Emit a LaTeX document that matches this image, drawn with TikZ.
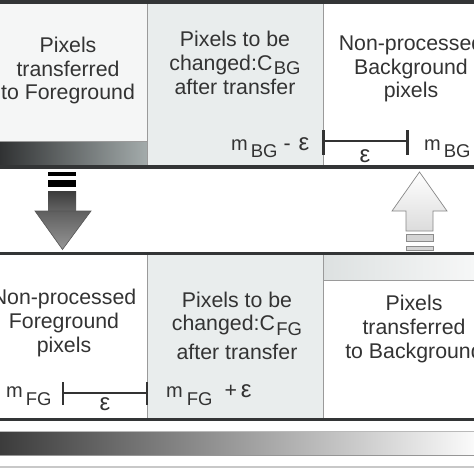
\documentclass[tikz,border=0pt]{standalone}
\usepackage{fontspec}
\setmainfont{Liberation Sans}
\definecolor{txt}{HTML}{333333}
\definecolor{bar}{HTML}{333536}
\definecolor{lightA}{HTML}{F5F6F6}
\definecolor{midfill}{HTML}{E9EDED}
\definecolor{divc}{HTML}{9A9A9A}
\newcommand{\subf}{\fontsize{18.5}{18.5}\selectfont}
\newcommand{\epsf}{\fontsize{24}{24}\selectfont}
\newcommand{\mf}{\fontsize{20}{20}\selectfont}
\begin{document}
\begin{tikzpicture}[x=1pt,y=-1pt,
  lbl/.style={inner sep=0pt,anchor=base,text=txt,font=\fontsize{21.3}{24}\selectfont},
  thick bar/.style={draw=bar,line width=3.8pt},
  divider/.style={draw=divc,line width=0.9pt},
  bracket/.style={draw=txt,line width=2.6pt}]
\clip (0,0) rectangle (474,474);
\fill[white] (0,0) rectangle (474,474);
% ---------- top row ----------
\fill[lightA] (0,4) rectangle (147,166);
\fill[midfill] (147,4) rectangle (323,166);
\shade[left color=bar!95!black,right color={rgb,255:red,163;green,171;blue,171}] (0,141) rectangle (147,166);
\draw[draw=divc,line width=0.6pt] (0,141) -- (147,141);
\draw[divider] (147,4) -- (147,166);
\draw[divider] (323,4) -- (323,166);
\draw[thick bar] (0,2) -- (474,2);
\draw[thick bar] (0,167) -- (474,167);
% top texts
\node[lbl] (tl1) at (68,52) {Pixels};
\node[lbl] (tl2) at (68,76) {transferred};
\node[lbl] (tl3) at (68,99) {to Foreground};
\node[lbl] (tm1) at (235,46) {Pixels to be};
\node[lbl] (tm2) at (235,70) {changed:C\hspace{1.5pt}\raisebox{-4.5pt}{\subf BG}};
\node[lbl] (tm3) at (235,94) {after transfer};
\node[lbl] (tr1) at (411,50) {Non-processed};
\node[lbl] (tr2) at (411,74) {Background};
\node[lbl] (tr3) at (411,97) {pixels};
\node[lbl,anchor=base west] (mbge) at (231,150) {{\mf m}\hspace{3pt}\raisebox{-7pt}{\subf BG}\hspace{6pt}-\hspace{8pt}{\epsf ε}};
\coordinate (b1a) at (323.5,130); \coordinate (b1b) at (323.5,155);
\coordinate (b2a) at (407.5,130); \coordinate (b2b) at (407.5,155);
\draw[bracket] (b1a) -- (b1b);
\draw[bracket] (b2a) -- (b2b);
\draw[bracket,line width=2.4pt] (323.5,141) -- (407.5,141);
\node[lbl,font=\epsf] (eps1) at (365,162) {ε};
\node[lbl,anchor=base west] (mbg) at (424,150) {{\mf m}\hspace{3pt}\raisebox{-7pt}{\subf BG}};
% ---------- arrows ----------
\fill[black] (48,172) rectangle (76,176);
\fill[black] (48,179.5) rectangle (76,187);
\shade[top color={rgb,255:red,60;green,60;blue,60},bottom color={rgb,255:red,100;green,100;blue,100}] (48,191) rectangle (76,211);
\shade[top color={rgb,255:red,95;green,95;blue,95},bottom color={rgb,255:red,150;green,150;blue,150},draw={rgb,255:red,85;green,85;blue,85},line width=0.6pt]
  (35,211) -- (91,211) -- (62.5,249.5) -- cycle;
\shade[top color=white,bottom color={rgb,255:red,220;green,220;blue,220},draw={rgb,255:red,135;green,135;blue,135},line width=0.7pt]
  (419.5,172) -- (447,211) -- (433,211) -- (433,231) -- (406,231) -- (406,211) -- (392,211) -- cycle;
\filldraw[fill={rgb,255:red,212;green,212;blue,212},draw={rgb,255:red,140;green,140;blue,140},line width=0.7pt] (406,234.5) rectangle (433,241.5);
\filldraw[fill={rgb,255:red,212;green,212;blue,212},draw={rgb,255:red,140;green,140;blue,140},line width=0.7pt] (406,246) rectangle (433,250);
% ---------- bottom row ----------
\fill[midfill] (147,255) rectangle (323,418);
\shade[left color={rgb,255:red,221;green,225;blue,225},right color={rgb,255:red,246;green,247;blue,247}] (323,255) rectangle (474,280);
\draw[draw=divc,line width=0.7pt] (323,280) -- (474,280);
\draw[divider] (147,255) -- (147,418);
\draw[divider] (323,255) -- (323,418);
\draw[thick bar] (0,253.5) -- (474,253.5);
\draw[thick bar] (0,419.5) -- (474,419.5);
\node[lbl] (bl1) at (64,304) {Non-processed};
\node[lbl] (bl2) at (64,328) {Foreground};
\node[lbl] (bl3) at (64,352) {pixels};
\node[lbl] (bm1) at (237,307) {Pixels to be};
\node[lbl] (bm2) at (237,330) {changed:C\hspace{1.5pt}\raisebox{-5pt}{\subf FG}};
\node[lbl] (bm3) at (237,359) {after transfer};
\node[lbl] (br1) at (414,310) {Pixels};
\node[lbl] (br2) at (414,334) {transferred};
\node[lbl] (br3) at (414,358) {to Background};
\node[lbl,anchor=base west] (mfg) at (6,397) {{\mf m}\hspace{3pt}\raisebox{-8pt}{\subf FG}};
\coordinate (c1a) at (63,382); \coordinate (c1b) at (63,405);
\coordinate (c2a) at (147,382); \coordinate (c2b) at (147,405);
\draw[bracket] (c1a) -- (c1b);
\draw[bracket] (c2a) -- (c2b);
\draw[bracket,line width=2.4pt] (63,393) -- (147,393);
\node[lbl,font=\epsf] (eps2) at (105,410) {ε};
\node[lbl,anchor=base west] (mfge) at (166,397) {{\mf m}\hspace{4pt}\raisebox{-8pt}{\subf FG}\hspace{12pt}+\hspace{4pt}{\epsf ε}};
% ---------- bottom gradient ----------
\shade[left color={rgb,255:red,60;green,60;blue,60},middle color={rgb,255:red,165;green,165;blue,165},right color={rgb,255:red,250;green,250;blue,250}] (0,431) rectangle (474,455);
\draw[draw={rgb,255:red,185;green,185;blue,185},line width=0.8pt] (0,431) -- (474,431);
\draw[draw={rgb,255:red,150;green,150;blue,150},line width=0.8pt] (0,455) -- (474,455);
\draw[draw={rgb,255:red,200;green,200;blue,200},line width=1.2pt] (0,467) -- (474,467);
\end{tikzpicture}
\end{document}
